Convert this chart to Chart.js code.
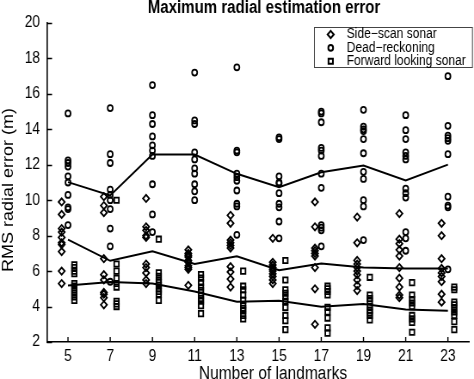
<!DOCTYPE html>
<html>
<head>
<meta charset="utf-8">
<script src="https://cdn.jsdelivr.net/npm/chart.js@4.4.0/dist/chart.umd.min.js"></script>
<style>
  html, body { margin: 0; padding: 0; background: #fff; overflow: hidden; }
  #frame { width: 474px; height: 379px; overflow: hidden; }
  /* drawn wider, then squeezed: the reference figure is compressed horizontally */
  #wrap { width: 551px; height: 379px; transform: scaleX(0.86025); transform-origin: 0 0; }
</style>
</head>
<body>
<div id="frame"><div id="wrap"><canvas id="chart" width="551" height="379" style="width:551px;height:379px"></canvas></div></div>
<script>
// x categories (number of landmarks)
const landmarks = [5, 7, 9, 11, 13, 15, 17, 19, 21, 23];
const yTicks = [2, 4, 6, 8, 10, 12, 14, 16, 18, 20];

// individual runs, one list per landmark count
const sideScan = [
  [9.9, 9.2, 8.4, 8.2, 7.9, 7.6, 7.5, 7.1, 6.0, 5.3],
  [10.2, 9.7, 9.3, 6.7, 5.8, 5.5, 4.8, 4.7, 4.5, 4.1],
  [10.1, 8.5, 8.3, 8.0, 7.9, 6.4, 6.2, 5.9, 5.5, 5.3],
  [7.2, 7.0, 6.9, 6.8, 6.6, 6.5, 6.3, 6.2, 6.1, 5.2],
  [9.15, 8.7, 7.75, 7.6, 7.45, 7.3, 6.25, 5.95, 5.55, 5.1],
  [7.85, 6.5, 6.35, 6.2, 6.1, 6.0, 5.85, 5.7, 5.5, 5.3],
  [9.9, 8.5, 7.3, 7.15, 7.0, 6.85, 6.2, 5.0, 3.0],
  [9.05, 7.6, 6.6, 6.4, 6.2, 6.0, 5.8, 5.5, 5.2, 4.9],
  [9.25, 7.8, 7.55, 7.2, 6.85, 6.2, 5.6, 5.1, 4.65, 4.5],
  [8.7, 8.0, 6.7, 6.15, 5.9, 5.7, 5.4, 4.7, 4.25]
];
const deadReckoning = [
  [14.9, 12.25, 12.1, 11.9, 11.35, 11.0, 10.3, 9.6, 9.5, 8.6],
  [15.2, 12.6, 12.1, 10.6, 10.3, 10.0, 9.5, 8.4, 7.4, 5.4],
  [16.5, 14.8, 14.3, 13.6, 13.1, 12.8, 12.5, 10.9, 9.2, 8.2],
  [17.2, 14.5, 14.3, 12.7, 12.3, 11.8, 11.5, 10.9, 10.5, 10.0],
  [17.5, 12.8, 12.7, 11.5, 11.3, 11.1, 10.55, 9.8, 9.65, 8.05],
  [13.55, 13.45, 11.35, 11.0, 10.95, 10.4, 9.8, 9.6, 8.8, 7.85],
  [15.0, 14.9, 14.4, 12.95, 12.8, 12.5, 11.5, 10.7, 8.6, 8.45, 8.3, 7.4],
  [15.1, 14.15, 14.0, 13.9, 13.45, 12.65, 11.6, 11.2, 10.0, 9.65, 7.75],
  [14.8, 13.95, 13.45, 12.7, 12.5, 12.3, 10.65, 10.4, 10.15, 8.2, 7.85, 7.15],
  [17.0, 14.2, 13.65, 13.5, 13.35, 12.6, 10.2, 9.7, 9.6, 6.1]
];
const forwardSonar = [
  [6.35, 6.2, 6.0, 5.85, 5.3, 5.15, 4.95, 4.75, 4.55, 4.35],
  [10.0, 6.4, 6.0, 5.6, 5.3, 5.1, 4.3, 4.15, 4.0],
  [7.8, 5.9, 5.7, 5.5, 5.35, 5.2, 5.0, 4.85, 4.7, 4.35],
  [5.8, 5.6, 5.35, 5.1, 4.9, 4.65, 4.45, 4.3, 4.05, 3.6],
  [6.0, 5.15, 4.95, 4.65, 4.35, 4.1, 3.9, 3.75, 3.5, 3.3],
  [6.6, 5.5, 4.95, 4.75, 4.55, 4.3, 3.95, 3.5, 3.2, 2.7],
  [5.15, 5.0, 4.85, 4.65, 3.95, 3.7, 3.35, 2.8, 2.5],
  [5.65, 4.65, 4.45, 4.3, 4.0, 3.8, 3.65, 3.5, 3.25],
  [5.35, 4.65, 4.4, 4.2, 4.0, 3.5, 3.3, 3.1, 2.55],
  [5.1, 4.95, 4.25, 4.1, 3.9, 3.7, 3.5, 3.15, 2.7]
];

// mean curves
const meanDead = [11.02, 10.27, 12.58, 12.58, 11.49, 10.74, 11.58, 11.96, 11.11, 12.01];
const meanSide = [7.78, 6.58, 7.12, 6.4, 6.84, 6.05, 6.43, 6.2, 6.15, 6.15];
const meanForward = [5.19, 5.39, 5.30, 4.85, 4.27, 4.33, 3.99, 4.14, 3.84, 3.76];

const legendItems = [
  { label: 'Side\u2212scan sonar', style: 'rectRot' },
  { label: 'Dead\u2212reckoning', style: 'circle' },
  { label: 'Forward looking sonar', style: 'rect' }
];

const FONT = '"Liberation Sans", Arial, Helvetica, sans-serif';
const SX = 474 / 551;           // horizontal squeeze of the displayed canvas
const cx = v => v / SX;         // screen x -> canvas x

function spread(groups, dx) {
  const pts = [];
  groups.forEach((vals, i) => vals.forEach(v => pts.push({ x: landmarks[i] + dx, y: v })));
  return pts;
}

function meanLine(vals) {
  return landmarks.map((x, i) => ({ x, y: vals[i] }));
}

function marker(ctx, style, x, y, r) {
  ctx.beginPath();
  if (style === 'rectRot') {
    ctx.moveTo(x, y - r); ctx.lineTo(x + r, y); ctx.lineTo(x, y + r); ctx.lineTo(x - r, y); ctx.closePath();
  } else if (style === 'circle') {
    ctx.arc(x, y, r, 0, Math.PI * 2);
  } else {
    const s = r * Math.SQRT1_2;
    ctx.rect(x - s, y - s, 2 * s, 2 * s);
  }
  ctx.stroke();
}

// MATLAB-style inward ticks, titles and boxed legend
const decorations = {
  id: 'decorations',
  afterDraw(chart) {
    const { ctx, chartArea } = chart;
    const xs = chart.scales.x, ys = chart.scales.y;
    ctx.save();
    ctx.strokeStyle = '#000';
    ctx.lineWidth = 1.4;
    ctx.beginPath();
    landmarks.forEach(v => {
      const px = xs.getPixelForValue(v);
      ctx.moveTo(px, chartArea.bottom);
      ctx.lineTo(px, chartArea.bottom - 5);
    });
    yTicks.forEach(v => {
      const py = Math.round(ys.getPixelForValue(v)) + 0.5;
      ctx.moveTo(chartArea.left, py);
      ctx.lineTo(chartArea.left + 6, py);
    });
    ctx.stroke();

    ctx.fillStyle = '#000';
    ctx.font = 'bold 17.5px ' + FONT;
    ctx.textAlign = 'center';
    ctx.textBaseline = 'alphabetic';
    ctx.fillText('Maximum radial estimation error', cx(264), 12.5);

    ctx.font = '18px ' + FONT;
    ctx.fillText('Number of landmarks', cx(273), 378.5);

    ctx.save();
    ctx.translate(cx(9), 190);
    ctx.rotate(-Math.PI / 2);
    ctx.textBaseline = 'middle';
    ctx.fillText('RMS radial error (m)', 0, 0);
    ctx.restore();

    ctx.strokeStyle = '#444';
    ctx.lineWidth = 1;
    ctx.strokeRect(cx(314) + 0.5, 27.5, cx(472) - cx(314), 40);
    ctx.font = '14px ' + FONT;
    ctx.textAlign = 'left';
    ctx.textBaseline = 'middle';
    legendItems.forEach((item, i) => {
      const y = 34.5 + i * 13.4;
      ctx.strokeStyle = '#000';
      ctx.lineWidth = 2;
      marker(ctx, item.style, cx(330.7), y, item.style === 'circle' ? 2.8 : 3.6);
      ctx.fillText(item.label, cx(346.7), y);
    });
    ctx.restore();
  }
};

const pointStyleBase = {
  type: 'scatter',
  showLine: false,
  pointBorderColor: '#000',
  pointBackgroundColor: 'rgba(0,0,0,0)',
  pointBorderWidth: 1.8
};
const lineBase = {
  type: 'scatter',
  showLine: true,
  borderColor: '#000',
  borderWidth: 2,
  pointRadius: 0,
  fill: false
};

new Chart(document.getElementById('chart'), {
  type: 'scatter',
  data: {
    datasets: [
      { ...lineBase, label: 'mean DR', data: meanLine(meanDead) },
      { ...lineBase, label: 'mean SSS', data: meanLine(meanSide) },
      { ...lineBase, label: 'mean FLS', data: meanLine(meanForward) },
      { ...pointStyleBase, label: 'Side\u2212scan sonar', data: spread(sideScan, -0.3), pointStyle: 'rectRot', pointRadius: 3.6 },
      { ...pointStyleBase, label: 'Dead\u2212reckoning', data: spread(deadReckoning, 0), pointStyle: 'circle', pointRadius: 3.0 },
      { ...pointStyleBase, label: 'Forward looking sonar', data: spread(forwardSonar, 0.3), pointStyle: 'rect', pointRadius: 3.8 }
    ]
  },
  options: {
    responsive: false,
    animation: false,
    devicePixelRatio: 1,
    events: [],
    layout: { padding: { top: 23, right: 0, bottom: 7, left: 20.7 } },
    plugins: {
      legend: { display: false },
      title: { display: false },
      tooltip: { enabled: false }
    },
    scales: {
      x: {
        type: 'linear',
        min: 4,
        max: 24,
        afterBuildTicks(scale) { scale.ticks = landmarks.map(v => ({ value: v })); },
        grid: { display: false, drawTicks: false },
        border: { display: true, color: '#000', width: 1.6 },
        ticks: { color: '#000', font: { family: FONT, size: 16, lineHeight: 1 }, padding: 7, maxRotation: 0 }
      },
      y: {
        min: 2,
        max: 20,
        afterBuildTicks(scale) { scale.ticks = yTicks.map(v => ({ value: v })); },
        grid: { display: false, drawTicks: false },
        border: { display: true, color: '#000', width: 1.6 },
        ticks: { color: '#000', font: { family: FONT, size: 16, lineHeight: 1 }, padding: 8 }
      }
    }
  },
  plugins: [decorations]
});
</script>
</body>
</html>
